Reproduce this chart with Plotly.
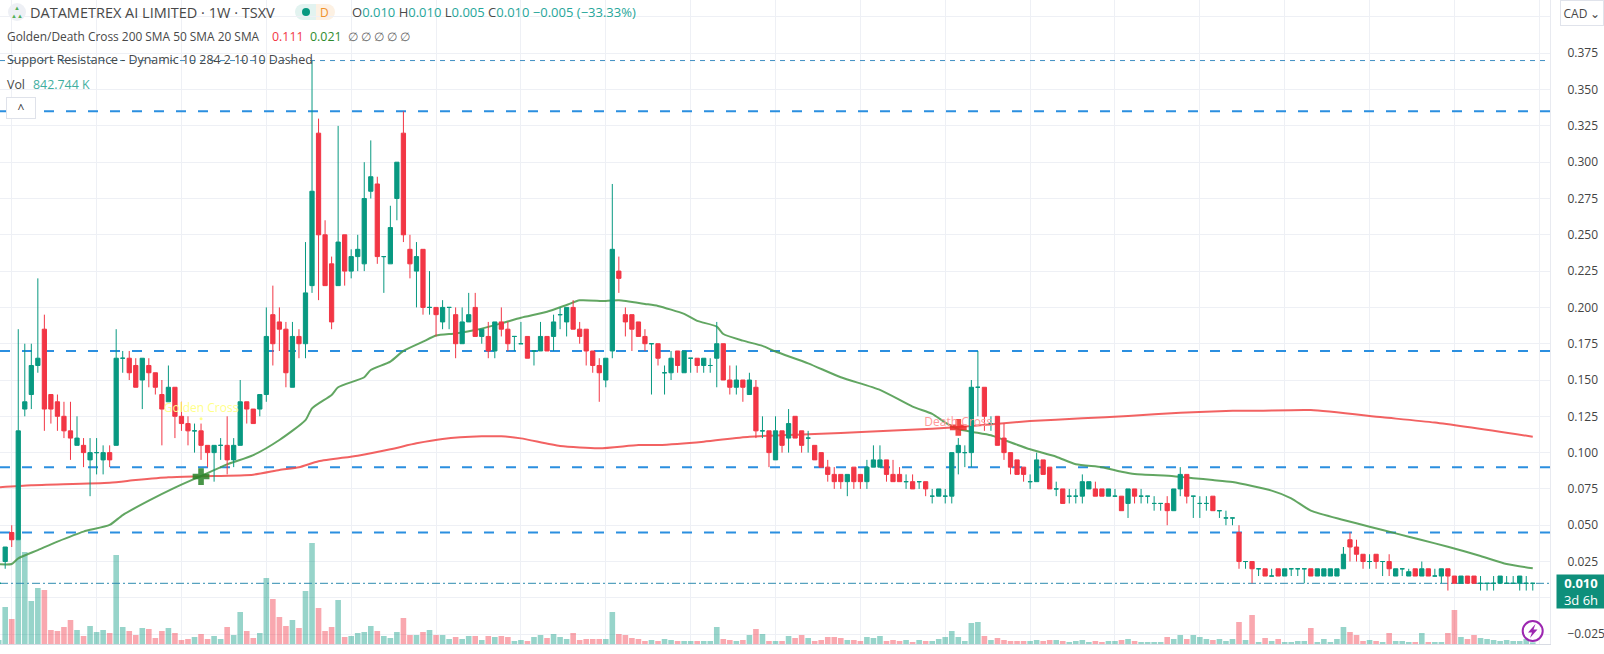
import plotly.graph_objects as go

# weekly candles, first bar is cut by the left edge
bars = list(range(-1, 235))

opens = [
    .01, .025, .045, .04, .13, .14, .16, .185, .14, .135,
    .125, .115, .105, .105, .095, .10, .095, .10, .105, .165,
    .165, .16, .15, .16, .155, .14, .135, .145, .125, .12,
    .115, .115, .105, .10, .105, .105, .095, .105, .135, .13,
    .13, .14, .195, .19, .185, .145, .18, .175, .215, .32,
    .25, .23, .215, .25, .225, .235, .23, .28, .285, .235,
    .23, .275, .32, .24, .225, .24, .20, .20, .19, .20,
    .195, .175, .19, .20, .18, .18, .17, .19, .185, .18,
    .175, .18, .17, .17, .18, .18, .195, .19, .20, .185,
    .185, .17, .16, .15, .17, .225, .195, .195, .19, .18,
    .175, .175, .155, .155, .17, .155, .165, .165, .16, .16,
    .165, .175, .15, .145, .15, .14, .145, .115, .115, .095,
    .115, .11, .125, .115, .11, .105, .10, .09, .085, .085,
    .08, .09, .085, .08, .09, .09, .095, .085, .085, .08,
    .08, .08, .08, .07, .07, .07, .07, .10, .10, .10,
    .145, .145, .12, .125, .11, .10, .095, .09, .08, .08,
    .095, .09, .075, .075, .07, .07, .07, .075, .075, .075,
    .07, .07, .07, .065, .075, .07, .07, .065, .065, .065,
    .06, .075, .085, .07, .065, .065, .07, .06, .055, .055,
    .045, .025, .025, .02, .02, .015, .02, .015, .02, .02,
    .02, .02, .015, .015, .015, .015, .02, .04, .035, .03,
    .025, .03, .025, .025, .015, .02, .015, .02, .015, .02,
    .015, .015, .02, .015, .01, .015, .015, .01, .01, .01,
    .01, .01, .01, .01, .01, .01,
]
highs = [
    .015, .035, .05, .185, .175, .175, .22, .195, .14, .14,
    .135, .135, .125, .11, .11, .11, .105, .105, .185, .17,
    .17, .165, .165, .165, .155, .15, .16, .145, .135, .125,
    .12, .12, .105, .105, .11, .125, .11, .15, .135, .13,
    .14, .20, .215, .20, .19, .19, .185, .245, .37, .33,
    .26, .235, .325, .25, .24, .25, .30, .315, .29, .235,
    .27, .30, .335, .25, .245, .24, .225, .20, .205, .20,
    .20, .20, .21, .21, .185, .19, .19, .20, .19, .18,
    .19, .18, .17, .19, .18, .195, .20, .20, .205, .19,
    .185, .17, .165, .165, .285, .235, .20, .195, .19, .185,
    .175, .175, .16, .17, .17, .17, .165, .165, .165, .165,
    .19, .175, .16, .16, .15, .155, .15, .125, .115, .125,
    .115, .13, .125, .115, .115, .105, .10, .095, .09, .085,
    .085, .09, .085, .095, .105, .105, .095, .095, .09, .085,
    .085, .08, .08, .075, .075, .075, .10, .11, .105, .15,
    .17, .145, .125, .125, .12, .10, .095, .09, .085, .10,
    .095, .09, .08, .075, .075, .075, .085, .08, .08, .075,
    .075, .075, .07, .075, .075, .075, .07, .07, .065, .07,
    .075, .09, .085, .07, .07, .07, .07, .06, .06, .055,
    .05, .025, .025, .02, .02, .02, .02, .02, .02, .02,
    .02, .02, .02, .02, .02, .02, .035, .045, .04, .03,
    .03, .03, .025, .03, .02, .02, .02, .02, .025, .02,
    .02, .02, .02, .015, .015, .015, .015, .015, .01, .015,
    .01, .015, .015, .015, .015, .01,
]
lows = [
    .01, .02, .035, .04, .125, .13, .155, .115, .12, .115,
    .11, .095, .105, .09, .07, .085, .085, .09, .105, .155,
    .15, .145, .13, .145, .14, .105, .135, .11, .115, .105,
    .10, .095, .09, .08, .095, .085, .09, .105, .12, .12,
    .125, .135, .16, .17, .145, .145, .165, .165, .21, .205,
    .215, .185, .215, .215, .22, .225, .225, .275, .23, .21,
    .23, .26, .245, .22, .20, .195, .195, .18, .185, .185,
    .165, .175, .19, .18, .175, .165, .165, .18, .17, .17,
    .175, .165, .16, .17, .17, .17, .185, .18, .185, .175,
    .16, .155, .135, .145, .165, .21, .18, .17, .18, .17,
    .14, .16, .14, .15, .155, .155, .155, .155, .155, .155,
    .145, .15, .14, .14, .135, .14, .11, .11, .09, .095,
    .10, .10, .11, .10, .10, .095, .09, .08, .075, .075,
    .07, .075, .075, .075, .09, .09, .08, .08, .08, .075,
    .075, .075, .07, .065, .07, .065, .065, .085, .09, .09,
    .125, .115, .115, .105, .095, .085, .085, .08, .075, .08,
    .085, .075, .07, .065, .065, .065, .065, .075, .07, .07,
    .07, .07, .06, .055, .065, .065, .065, .06, .06, .05,
    .06, .07, .065, .055, .055, .06, .06, .055, .05, .05,
    .02, .02, .01, .015, .015, .015, .015, .015, .015, .015,
    .01, .015, .015, .015, .015, .015, .035, .025, .025, .02,
    .02, .02, .015, .015, .015, .015, .015, .015, .015, .015,
    .015, .01, .005, .01, .01, .01, .01, .005, .005, .005,
    .01, .01, .01, .005, .005, .005,
]
closes = [
    .01, .035, .04, .115, .135, .16, .165, .13, .13, .125,
    .115, .11, .11, .10, .10, .10, .10, .095, .165, .165,
    .155, .145, .165, .155, .145, .13, .145, .125, .12, .115,
    .115, .105, .10, .105, .105, .095, .105, .135, .13, .12,
    .14, .18, .175, .185, .155, .18, .175, .21, .28, .25,
    .215, .19, .245, .225, .235, .24, .275, .29, .235, .235,
    .255, .30, .25, .23, .235, .20, .20, .195, .20, .20,
    .175, .19, .195, .18, .185, .17, .19, .185, .175, .18,
    .175, .165, .17, .18, .17, .19, .195, .20, .185, .18,
    .17, .16, .155, .165, .24, .22, .19, .185, .18, .175,
    .175, .165, .155, .165, .16, .17, .165, .16, .165, .16,
    .175, .15, .145, .15, .145, .15, .115, .115, .10, .115,
    .105, .12, .11, .105, .11, .095, .09, .085, .08, .08,
    .085, .08, .08, .09, .095, .095, .085, .08, .08, .08,
    .075, .08, .075, .07, .075, .07, .10, .105, .10, .145,
    .145, .125, .12, .105, .10, .09, .085, .085, .08, .095,
    .085, .075, .075, .065, .07, .07, .08, .08, .07, .07,
    .075, .07, .06, .075, .07, .07, .07, .065, .065, .06,
    .075, .085, .07, .07, .065, .065, .06, .06, .055, .055,
    .025, .025, .02, .02, .015, .015, .015, .02, .02, .02,
    .02, .015, .02, .02, .02, .02, .03, .035, .03, .025,
    .025, .025, .025, .02, .02, .02, .018, .015, .02, .015,
    .015, .02, .015, .01, .015, .01, .01, .01, .01, .01,
    .015, .01, .01, .015, .01, .01,
]

# volume in millions
volumes = [
    2.0, 18.5, 12.5, 52.0, 46.0, 21.5, 28.0, 27.0, 7.0, 6.5,
    8.5, 12.0, 7.0, 4.0, 9.0, 6.0, 7.0, 5.5, 44.5, 8.5,
    6.5, 4.5, 8.0, 7.5, 3.0, 6.5, 8.0, 5.5, 2.0, 2.5,
    3.5, 5.0, 2.5, 4.0, 2.5, 8.5, 4.5, 16.0, 6.5, 3.0,
    5.5, 33.0, 22.5, 13.5, 9.0, 12.0, 8.0, 26.5, 50.5, 18.0,
    6.5, 8.5, 22.0, 3.5, 4.0, 5.5, 6.0, 9.0, 6.5, 4.0,
    3.0, 6.0, 13.0, 4.5, 4.5, 6.0, 7.0, 4.5, 4.5, 2.5,
    3.5, 2.5, 4.0, 4.0, 2.0, 4.0, 3.5, 4.0, 3.5, 1.5,
    2.0, 1.5, 3.5, 4.5, 3.0, 5.0, 3.5, 2.5, 5.5, 2.0,
    2.5, 2.5, 2.5, 2.5, 16.0, 5.0, 4.5, 3.0, 2.5, 1.5,
    2.0, 1.5, 2.5, 2.0, 1.5, 1.5, 1.5, 1.5, 1.5, 1.5,
    8.5, 2.5, 2.0, 1.5, 2.0, 4.5, 7.5, 5.0, 1.5, 1.5,
    1.5, 4.0, 3.0, 4.5, 3.0, 1.5, 2.0, 3.5, 3.5, 3.0,
    2.0, 2.0, 1.5, 3.5, 3.0, 4.0, 1.5, 2.0, 1.5, 2.0,
    1.0, 2.0, 1.5, 1.5, 2.5, 3.5, 6.5, 3.5, 1.5, 10.5,
    11.0, 4.0, 2.0, 3.0, 2.0, 1.5, 1.5, 1.5, 1.5, 2.0,
    1.5, 2.0, 2.0, 1.5, 1.0, 1.5, 2.0, 1.0, 1.5, 1.0,
    1.5, 1.5, 2.0, 2.5, 1.5, 1.0, 1.0, 1.0, 1.0, 3.5,
    2.5, 4.5, 2.5, 4.5, 3.5, 2.5, 2.0, 2.5, 1.5, 2.5,
    11.0, 2.0, 14.5, 1.0, 3.0, 1.5, 2.5, 1.0, 1.0, 1.5,
    1.5, 8.0, 1.0, 2.5, 1.0, 2.5, 8.5, 6.0, 4.5, 1.5,
    2.0, 1.5, 1.0, 5.5, 1.5, 1.5, 1.0, 1.0, 5.5, 1.0,
    1.0, 1.0, 5.5, 17.0, 3.5, 2.5, 4.5, 3.0, 2.5, 2.0,
    1.5, 2.0, 1.5, 1.5, 2.5, 0.84,
]

sma200_x = [-1, 4, 16, 20, 25, 30, 38, 42, 45, 48, 54, 59, 63, 67, 73, 76, 79, 85, 91, 97,
            100, 107, 114, 124, 132, 142, 148, 157, 165, 172, 180, 188, 192, 200, 211, 219, 234]
sma200 = [.0761, .0775, .0793, .0811, .083, .0837, .0848, .088, .0899, .094, .0979, .1023, .1064, .1094, .1112, .1112, .1098, .1045, .103, .1052,
          .1052, .1075, .111, .1128, .1144, .1165, .1183, .1217, .1236, .1252, .1275, .1288, .1288, .1293, .1243, .1207, .111]

sma50_x = [-1, 1, 2, 5, 8, 12, 16, 18, 22, 26, 30, 34, 38, 42, 46, 47, 50, 51, 55, 56, 59, 61, 64, 66, 69, 72, 76, 79, 83, 86, 88, 92, 94,
           98, 100, 104, 106, 109, 110, 113, 116, 118, 123, 128, 134, 139, 142, 144, 146, 148, 151, 153, 157, 161, 164, 168, 171, 173, 179, 182, 185, 188, 194, 197, 200, 205, 209, 213, 217, 221, 226, 230, 234]
sma50 = [.0231, .0233, .0272, .0329, .0387, .0456, .0502, .057, .0669, .0759, .0839, .0919, .0983, .1087, .1224, .1305, .1397, .145, .1519, .1569, .1627, .17, .1764, .1806, .1821, .1844, .189, .1929, .197, .2017, .2049, .2044, .205,
         .2024, .201, .1955, .1907, .1868, .1817, .1771, .1735, .1696, .1615, .1519, .1432, .1317, .1267, .1207, .1163, .1144, .1119, .1087, .1023, .0972, .092, .09, .0868, .0852, .0838, .0824, .0811, .0797, .0738, .0685, .06, .0536, .049, .0444, .0398, .0352, .0288, .0233, .0203]

sr_heavy = [.335, .17, .09, .045]
sr_light = .37
last_price = .01

cross_x = [30, 146]
cross_y = [.0835, .1174]
cross_label_x = [30, 146]
cross_label_y = [.130, .1204]
cross_labels = ['Golden Cross', 'Death Cross']
golden_dot_x = [30]
golden_dot_y = [.1233]

# 0.000 and 0.400 sit under the price tag and the currency button
tick_vals = [-.025, 0, .025, .05, .075, .1, .125, .15, .175, .2, .225, .25, .275, .3, .325, .35, .375, .4]
tick_text = ['−0.025', '', '0.025', '0.050', '0.075', '0.100', '0.125', '0.150', '0.175', '0.200',
             '0.225', '0.250', '0.275', '0.300', '0.325', '0.350', '0.375', '']

UP = '#089981'
DOWN = '#f23645'
FONT = 'Open Sans'
TEXT = '#484848'
XR = [-0.797, 236.64]
YR = [-.0318, .4117]
W = 1550.0
H = 644.0


def px(x):
    return x / W


def py(y):
    return 1 - y / H


fig = go.Figure()

vol_colors = ['rgba(8,153,129,0.42)' if c >= o else 'rgba(242,54,69,0.43)' for o, c in zip(opens, closes)]
fig.add_trace(go.Bar(x=bars, y=volumes, marker=dict(color=vol_colors, line=dict(width=0)), yaxis='y'))

for lvl in sr_heavy:
    fig.add_trace(go.Scatter(x=XR, y=[lvl, lvl], mode='lines', yaxis='y2',
                             line=dict(color='#2b8fe0', width=2, dash='10px,12px')))
fig.add_trace(go.Scatter(x=XR, y=[sr_light, sr_light], mode='lines', yaxis='y2',
                         line=dict(color='#3f8fc4', width=1, dash='5px,5px')))
fig.add_trace(go.Scatter(x=XR, y=[last_price, last_price], mode='lines', yaxis='y2',
                         line=dict(color='#2e8bb0', width=1, dash='8px,3px,2px,3px')))
fig.add_trace(go.Scatter(x=sma200_x, y=sma200, mode='lines', yaxis='y2',
                         line=dict(color='rgba(240,70,70,0.85)', width=2, shape='spline', smoothing=0.6)))
fig.add_trace(go.Scatter(x=sma50_x, y=sma50, mode='lines', yaxis='y2',
                         line=dict(color='rgba(70,150,70,0.85)', width=2, shape='spline', smoothing=0.6)))

# two traces so that flat candles keep their colour
up = [i for i in range(len(bars)) if closes[i] >= opens[i]]
down = [i for i in range(len(bars)) if closes[i] < opens[i]]
for idx, col in ((up, UP), (down, DOWN)):
    fig.add_trace(go.Candlestick(
        x=[bars[i] for i in idx],
        open=[opens[i] for i in idx],
        high=[highs[i] for i in idx],
        low=[lows[i] for i in idx],
        close=[closes[i] for i in idx],
        yaxis='y3',
        increasing=dict(line=dict(color=col, width=1), fillcolor=col),
        decreasing=dict(line=dict(color=col, width=1), fillcolor=col),
    ))

fig.add_trace(go.Scatter(x=cross_x, y=cross_y, mode='markers', yaxis='y4',
                         marker=dict(symbol='cross', size=14, line=dict(width=0),
                                     color=['rgba(40,130,40,0.85)', 'rgba(240,40,40,0.85)'])))
fig.add_trace(go.Scatter(x=golden_dot_x, y=golden_dot_y, mode='markers', yaxis='y4',
                         marker=dict(size=3, color='#ffff8a')))
fig.add_trace(go.Scatter(x=cross_label_x, y=cross_label_y, mode='text', yaxis='y4', text=cross_labels,
                         textfont=dict(family=FONT, size=12, color=['#ffff8a', '#ff9a9a'])))

notes = []


def note(x, y, text, size=13, color=TEXT, **kw):
    notes.append(dict(xref='paper', yref='paper', x=px(x), y=py(y), text=text, showarrow=False,
                      xanchor=kw.pop('xanchor', 'left'), yanchor='middle',
                      font=dict(family=FONT, size=size, color=color), **kw))


note(28, 12, 'DATAMETREX AI LIMITED · 1W · TSXV', size=14.5)
note(350, 12, 'O<span style="color:#26a69a">0.010</span> H<span style="color:#26a69a">0.010</span> '
              'L<span style="color:#26a69a">0.005</span> C<span style="color:#26a69a">0.010 −0.005 (−33.33%)</span>',
     size=13)
note(324, 12, 'D', size=12, color='#f0902a', xanchor='center')
note(5, 36, 'Golden/Death Cross 200 SMA 50 SMA 20 SMA', size=11.9)
note(270, 36, '0.111', size=12.4, color='#f23645')
note(308, 36, '0.021', size=12.4, color='#2e8b2e')
note(346, 36, '∅ ∅ ∅ ∅ ∅', size=12, color='#666')
note(5, 60, 'Support Resistance - Dynamic 10 284 2 10 10 Dashed', size=12.4)
note(5, 84, 'Vol', size=12.4)
note(31, 84, '842.744 K', size=12.4, color='#3fae9f')
note(21, 108, '^', size=12, color='#333', xanchor='center', width=26, height=18,
     bgcolor='white', bordercolor='#dfe2ea', borderwidth=1)
note(1582, 13, 'CAD ⌄', size=12, xanchor='center', width=40, height=22,
     bgcolor='white', bordercolor='#e0e3eb', borderwidth=1)
note(1581, 591, '<b>0.010</b><br>3d 6h', size=13, color='white', xanchor='center', width=46, height=31,
     bgcolor='#0e8f7b')
note(17, 12, '▲<br>▲▲', size=6, color='#55b05a', xanchor='center')


def circle(x0, x1, y0, y1, fill, **kw):
    return dict(type='circle', xref='paper', yref='paper', x0=px(x0), x1=px(x1), y0=py(y1), y1=py(y0),
                fillcolor=fill, **kw)


bolt = [(1535.5, 624), (1528, 632.5), (1532, 632.5), (1530, 638), (1537.5, 629.5), (1533.5, 629.5)]
bolt_path = 'M' + ' L'.join(f'{px(a)},{py(b)}' for a, b in bolt) + ' Z'

shapes = [
    circle(8, 26, 3, 21, '#eef0f5', line=dict(width=0), layer='below'),
    circle(295, 311, 4, 20, '#e2f3f0', line=dict(width=0), layer='below'),
    dict(type='rect', xref='paper', yref='paper', x0=px(303), x1=px(316), y0=py(20), y1=py(4),
         fillcolor='#e2f3f0', line=dict(width=0), layer='below'),
    dict(type='rect', xref='paper', yref='paper', x0=px(316), x1=px(327), y0=py(20), y1=py(4),
         fillcolor='#fdf1e3', line=dict(width=0), layer='below'),
    circle(319, 335, 4, 20, '#fdf1e3', line=dict(width=0), layer='below'),
    circle(302, 310, 8, 16, UP, line=dict(width=0)),
    circle(1522.7, 1542.7, 621, 641, 'rgba(255,255,255,0.6)', line=dict(color='#9c27b0', width=2)),
    dict(type='path', xref='paper', yref='paper', path=bolt_path, fillcolor='#9c27b0', line=dict(width=0)),
]

fig.update_layout(
    width=1604, height=654,
    margin=dict(l=0, r=54, t=0, b=10),
    paper_bgcolor='white', plot_bgcolor='white',
    showlegend=False, hovermode=False,
    bargap=0.14, boxmode='overlay', boxgap=0.35, boxgroupgap=0,
    annotations=notes, shapes=shapes,
    xaxis=dict(range=XR, type='linear', rangeslider=dict(visible=False), tick0=1, dtick=13,
               showgrid=True, gridcolor='#eef0f5', showticklabels=False, ticks='', zeroline=False,
               showline=True, linecolor='#d8dbe3'),
    yaxis=dict(range=[0, 322], visible=False, fixedrange=True),
    yaxis2=dict(range=YR, overlaying='y', side='right', anchor='x', tickvals=tick_vals, ticktext=tick_text,
                showgrid=True, gridcolor='#eef0f5', zeroline=False, showline=True, linecolor='#e8eaf0',
                ticks='', ticklabelstandoff=14, tickfont=dict(family=FONT, size=12, color='#444')),
    yaxis3=dict(range=YR, overlaying='y', side='right', anchor='x', visible=False),
    yaxis4=dict(range=YR, overlaying='y', side='right', anchor='x', visible=False),
)

# the page's default body margin would push the chart off the window
fig.write_html("out.html", config=dict(displayModeBar=False),
               post_script="document.body.style.margin='0';")
